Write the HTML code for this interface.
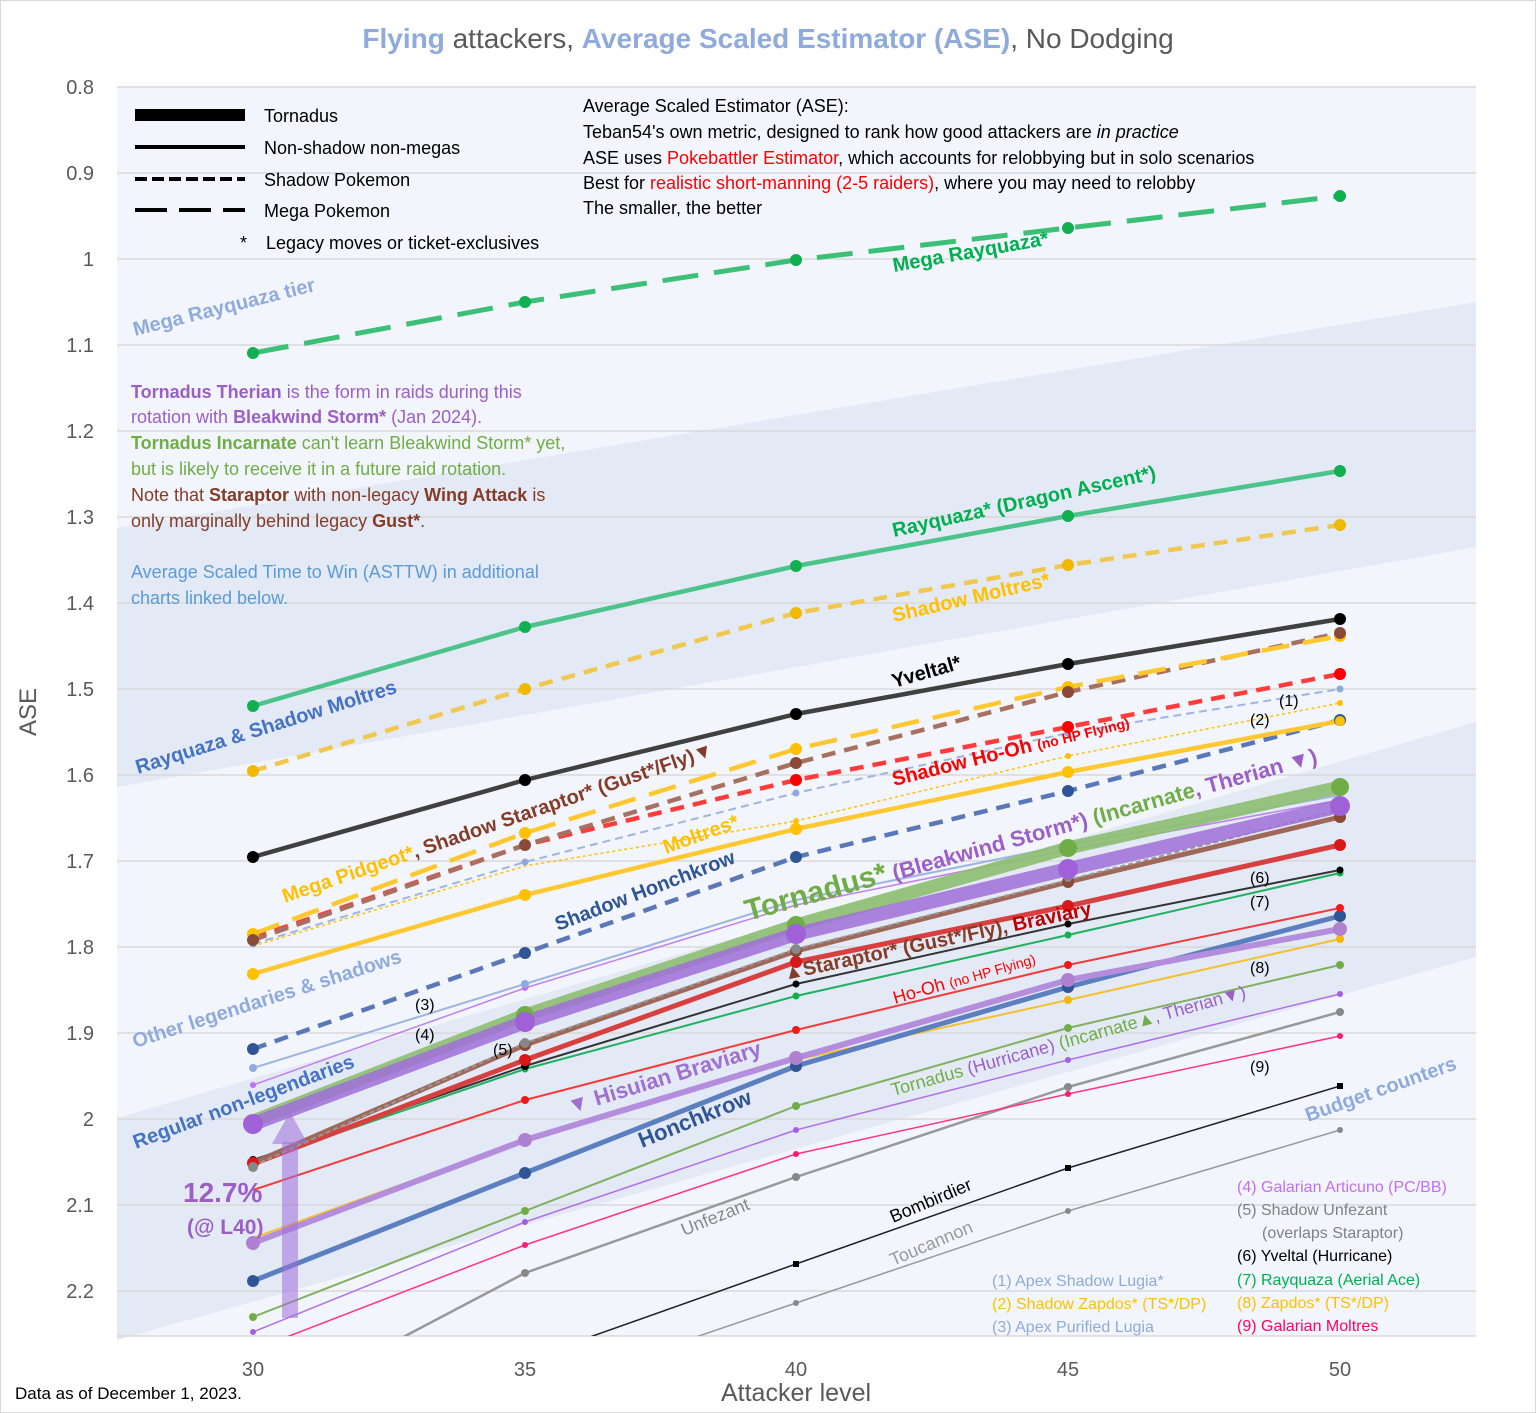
<!DOCTYPE html>
<html><head><meta charset="utf-8"><style>
html,body{margin:0;padding:0;background:#fff;overflow:hidden;width:1536px;height:1413px;}
svg{display:block;font-family:"Liberation Sans",sans-serif;}
</style></head><body>
<svg width="1536" height="1413" viewBox="0 0 1536 1413" xmlns="http://www.w3.org/2000/svg">
<defs><clipPath id="pc"><rect x="117" y="87" width="1359" height="1249"/></clipPath></defs>
<rect x="0.5" y="0.5" width="1535" height="1412" fill="#fff" stroke="#d9d9d9"/>
<rect x="117" y="87" width="1359" height="1249" fill="#f2f5fb"/>
<polygon points="117,528 1476,302 1476,547 117,787" fill="#e3e9f5"/>
<polygon points="117,1118 1476,722 1476,957 117,1340" fill="#e3e9f5"/>
<g stroke="#d9d9d9" stroke-width="1.5">
<line x1="117" x2="1476" y1="87" y2="87"/><line x1="117" x2="1476" y1="173" y2="173"/><line x1="117" x2="1476" y1="259" y2="259"/><line x1="117" x2="1476" y1="345" y2="345"/><line x1="117" x2="1476" y1="431" y2="431"/><line x1="117" x2="1476" y1="517" y2="517"/><line x1="117" x2="1476" y1="603" y2="603"/><line x1="117" x2="1476" y1="689" y2="689"/><line x1="117" x2="1476" y1="775" y2="775"/><line x1="117" x2="1476" y1="861" y2="861"/><line x1="117" x2="1476" y1="947" y2="947"/><line x1="117" x2="1476" y1="1033" y2="1033"/><line x1="117" x2="1476" y1="1119" y2="1119"/><line x1="117" x2="1476" y1="1205" y2="1205"/><line x1="117" x2="1476" y1="1291" y2="1291"/><line x1="117" x2="1476" y1="1336" y2="1336"/>
</g>
<text x="768" y="48" text-anchor="middle" font-size="28" fill="#595959"><tspan fill="#8faadc" font-weight="bold">Flying</tspan> attackers, <tspan fill="#8faadc" font-weight="bold">Average Scaled Estimator (ASE)</tspan>, No Dodging</text>
<g font-size="20" fill="#595959" text-anchor="end">
<text x="94" y="94">0.8</text><text x="94" y="180">0.9</text><text x="94" y="266">1</text><text x="94" y="352">1.1</text><text x="94" y="438">1.2</text><text x="94" y="524">1.3</text><text x="94" y="610">1.4</text><text x="94" y="696">1.5</text><text x="94" y="782">1.6</text><text x="94" y="868">1.7</text><text x="94" y="954">1.8</text><text x="94" y="1040">1.9</text><text x="94" y="1126">2</text><text x="94" y="1212">2.1</text><text x="94" y="1298">2.2</text>
</g>
<g font-size="20" fill="#595959" text-anchor="middle">
<text x="253" y="1376">30</text><text x="525" y="1376">35</text><text x="796" y="1376">40</text><text x="1068" y="1376">45</text><text x="1340" y="1376">50</text>
</g>
<text x="796" y="1401" text-anchor="middle" font-size="25" fill="#595959">Attacker level</text>
<text transform="translate(36,712) rotate(-90)" text-anchor="middle" font-size="24" fill="#595959">ASE</text>
<text x="15" y="1399" font-size="17" fill="#000">Data as of December 1, 2023.</text>

<g clip-path="url(#pc)" fill="none" stroke-linejoin="round">
<polyline points="253,1416 525,1273 796,1177 1068,1087 1340,1012" stroke="#999" stroke-width="2.5"/>
<polyline points="253,1552 525,1360 796,1264 1068,1168 1340,1086" stroke="#222" stroke-width="1.5"/>
<polyline points="253,1579 525,1395 796,1303 1068,1211 1340,1130" stroke="#999" stroke-width="1.5"/>
<polyline points="253,1350 525,1245 796,1154 1068,1094 1340,1036" stroke="#ff3385" stroke-width="1.5"/>
<polyline points="253,1332 525,1222 796,1130 1068,1060 1340,994" stroke="#b070e8" stroke-width="1.5"/>
<polyline points="253,1317 525,1211 796,1106 1068,1028 1340,965" stroke="#80b060" stroke-width="2"/>
<polyline points="253,1238 525,1140 796,1060 1068,1000 1340,939" stroke="#f5c030" stroke-width="2"/>
<polyline points="253,1281 525,1173 796,1066 1068,987 1340,916" stroke="#5b7fbf" stroke-width="5"/>
<polyline points="253,1243 525,1140 796,1058 1068,980 1340,929" stroke="#b48ddc" stroke-width="6"/>
<polyline points="253,1190 525,1100 796,1030 1068,965 1340,908" stroke="#f03c3c" stroke-width="2"/>
<polyline points="253,1162 525,1069 796,996 1068,935 1340,873" stroke="#20b060" stroke-width="2"/>
<polyline points="253,1160 525,1066 796,984 1068,924 1340,870" stroke="#333" stroke-width="2"/>
<polyline points="253,1164 525,1060 796,962 1068,906 1340,845" stroke="#d84040" stroke-width="5"/>
<polyline points="253,1163 525,1045 796,951 1068,882 1340,817" stroke="#a06858" stroke-width="5"/>
<polyline points="253,1166 525,1043 796,949 1068,880 1340,810" stroke="#999" stroke-width="2" stroke-dasharray="5 3"/>
<polyline points="253,1085 525,988 796,905 1068,850 1340,800" stroke="#c080f0" stroke-width="1.5"/>
<polyline points="253,1068 525,984 796,900 1068,845 1340,795" stroke="#9db5e0" stroke-width="2"/>
<polyline points="253,1121 525,1015 796,925 1068,848 1340,787" stroke="#8cbf70" stroke-width="13" stroke-opacity="0.9"/>
<polyline points="253,1124 525,1022 796,934 1068,869 1340,806" stroke="#a070d8" stroke-width="14" stroke-opacity="0.85"/>
<polyline points="253,1049 525,953 796,857 1068,791 1340,720" stroke="#5a78b8" stroke-width="4.5" stroke-dasharray="14 9"/>
<polyline points="253,974 525,895 796,829 1068,772 1340,721" stroke="#ffc830" stroke-width="4.5"/>
<polyline points="253,946 525,866 796,821 1068,756 1340,703" stroke="#ffc000" stroke-width="1.5" stroke-dasharray="3 3"/>
<polyline points="253,944 525,862 796,793 1068,733 1340,689" stroke="#9db5e0" stroke-width="2" stroke-dasharray="8 5"/>
<polyline points="253,938 525,845 796,780 1068,727 1340,674" stroke="#ff3c3c" stroke-width="4.5" stroke-dasharray="14 9"/>
<polyline points="253,940 525,845 796,763 1068,692 1340,633" stroke="#a87060" stroke-width="4.5" stroke-dasharray="14 9"/>
<polyline points="253,934 525,833 796,749 1068,687 1340,636" stroke="#ffc830" stroke-width="4.5" stroke-dasharray="28 14"/>
<polyline points="253,857 525,780 796,714 1068,664 1340,619" stroke="#404040" stroke-width="4.5"/>
<polyline points="253,771 525,689 796,613 1068,565 1340,525" stroke="#f0c850" stroke-width="4.5" stroke-dasharray="14 9"/>
<polyline points="253,706 525,627 796,566 1068,516 1340,471" stroke="#4cc38a" stroke-width="4.5"/>
<polyline points="253,353 525,302 796,260 1068,228 1340,196" stroke="#3cc078" stroke-width="5" stroke-dasharray="36 16"/>
</g>
<g clip-path="url(#pc)">
<g fill="#888"><circle cx="525" cy="1273" r="4"/><circle cx="796" cy="1177" r="4"/><circle cx="1068" cy="1087" r="4"/><circle cx="1340" cy="1012" r="4"/></g>
<g fill="#000"><rect x="793" y="1261" width="6" height="6"/><rect x="1065" y="1165" width="6" height="6"/><rect x="1337" y="1083" width="6" height="6"/></g>
<g fill="#888"><circle cx="796" cy="1303" r="3"/><circle cx="1068" cy="1211" r="3"/><circle cx="1340" cy="1130" r="3"/></g>
<g fill="#ff1a75"><circle cx="525" cy="1245" r="3"/><circle cx="796" cy="1154" r="3"/><circle cx="1068" cy="1094" r="3"/><circle cx="1340" cy="1036" r="3"/></g>
<g fill="#a060e0"><circle cx="253" cy="1332" r="3"/><circle cx="525" cy="1222" r="3"/><circle cx="796" cy="1130" r="3"/><circle cx="1068" cy="1060" r="3"/><circle cx="1340" cy="994" r="3"/></g>
<g fill="#70ad47"><circle cx="253" cy="1317" r="4"/><circle cx="525" cy="1211" r="4"/><circle cx="796" cy="1106" r="4"/><circle cx="1068" cy="1028" r="4"/><circle cx="1340" cy="965" r="4"/></g>
<g fill="#f5b800"><circle cx="796" cy="1060" r="4"/><circle cx="1068" cy="1000" r="4"/><circle cx="1340" cy="939" r="4"/></g>
<g fill="#2f5597"><circle cx="253" cy="1281" r="6"/><circle cx="525" cy="1173" r="6"/><circle cx="796" cy="1066" r="6"/><circle cx="1068" cy="987" r="6"/><circle cx="1340" cy="916" r="6"/></g>
<g fill="#b080d0"><circle cx="253" cy="1243" r="7"/><circle cx="525" cy="1140" r="7"/><circle cx="796" cy="1058" r="7"/><circle cx="1068" cy="980" r="7"/><circle cx="1340" cy="929" r="7"/></g>
<g fill="#f01818"><circle cx="525" cy="1100" r="4"/><circle cx="796" cy="1030" r="4"/><circle cx="1068" cy="965" r="4"/><circle cx="1340" cy="908" r="4"/></g>
<g fill="#10b050"><circle cx="525" cy="1069" r="3.5"/><circle cx="796" cy="996" r="3.5"/><circle cx="1068" cy="935" r="3.5"/><circle cx="1340" cy="873" r="3.5"/></g>
<g fill="#000"><circle cx="253" cy="1160" r="4"/><circle cx="525" cy="1066" r="4"/><circle cx="796" cy="984" r="3.5"/><circle cx="1068" cy="924" r="3.5"/><circle cx="1340" cy="870" r="3.5"/></g>
<g fill="#d81818"><circle cx="253" cy="1163" r="6"/><circle cx="525" cy="1060" r="6"/><circle cx="796" cy="962" r="6"/><circle cx="1068" cy="906" r="6"/><circle cx="1340" cy="845" r="6"/></g>
<g fill="#8b4a38"><circle cx="525" cy="1045" r="6"/><circle cx="796" cy="951" r="6"/><circle cx="1068" cy="882" r="6"/><circle cx="1340" cy="817" r="6"/></g>
<g fill="#888"><circle cx="253" cy="1167" r="5"/><circle cx="525" cy="1043" r="5"/><circle cx="796" cy="949" r="5"/><circle cx="1068" cy="878" r="4"/></g>
<g fill="#c070f0"><circle cx="253" cy="1085" r="3"/><circle cx="525" cy="988" r="3"/></g>
<g fill="#8faadc"><circle cx="253" cy="1068" r="4"/><circle cx="525" cy="984" r="4"/></g>
<g fill="#70ad47"><circle cx="525" cy="1015" r="9"/><circle cx="796" cy="925" r="9"/><circle cx="1068" cy="848" r="9"/><circle cx="1340" cy="787" r="9"/></g>
<g fill="#a060d8"><circle cx="253" cy="1124" r="10"/><circle cx="525" cy="1022" r="10"/><circle cx="796" cy="934" r="10"/><circle cx="1068" cy="869" r="10"/><circle cx="1340" cy="806" r="10"/></g>
<g fill="#2f5597"><circle cx="253" cy="1049" r="6"/><circle cx="525" cy="953" r="6"/><circle cx="796" cy="857" r="6"/><circle cx="1068" cy="791" r="6"/><circle cx="1340" cy="720" r="6"/></g>
<g fill="#ffc000"><circle cx="253" cy="974" r="6"/><circle cx="525" cy="895" r="6"/><circle cx="796" cy="829" r="6"/><circle cx="1068" cy="772" r="6"/><circle cx="1340" cy="721" r="5"/></g>
<g fill="#ffc000"><circle cx="796" cy="821" r="3"/><circle cx="1068" cy="756" r="3"/><circle cx="1340" cy="703" r="3"/></g>
<g fill="#8faadc"><circle cx="253" cy="944" r="3.5"/><circle cx="525" cy="862" r="3.5"/><circle cx="796" cy="793" r="3.5"/><circle cx="1068" cy="733" r="3.5"/><circle cx="1340" cy="689" r="3.5"/></g>
<g fill="#ff0000"><circle cx="796" cy="780" r="6"/><circle cx="1068" cy="727" r="6"/><circle cx="1340" cy="674" r="6"/></g>
<g fill="#ffc000"><circle cx="253" cy="934" r="6"/><circle cx="525" cy="833" r="6"/><circle cx="796" cy="749" r="6"/><circle cx="1068" cy="687" r="6"/><circle cx="1340" cy="636" r="6"/></g>
<g fill="#8b4a38"><circle cx="253" cy="940" r="6"/><circle cx="525" cy="845" r="6"/><circle cx="796" cy="763" r="6"/><circle cx="1068" cy="692" r="6"/><circle cx="1340" cy="633" r="6"/></g>
<g fill="#000"><circle cx="253" cy="857" r="6"/><circle cx="525" cy="780" r="6"/><circle cx="796" cy="714" r="6"/><circle cx="1068" cy="664" r="6"/><circle cx="1340" cy="619" r="6"/></g>
<g fill="#f0b800"><circle cx="253" cy="771" r="6"/><circle cx="525" cy="689" r="6"/><circle cx="796" cy="613" r="6"/><circle cx="1068" cy="565" r="6"/><circle cx="1340" cy="525" r="6"/></g>
<g fill="#10b050"><circle cx="253" cy="706" r="6"/><circle cx="525" cy="627" r="6"/><circle cx="796" cy="566" r="6"/><circle cx="1068" cy="516" r="6"/><circle cx="1340" cy="471" r="6"/></g>
<g fill="#10b050"><circle cx="253" cy="353" r="6"/><circle cx="525" cy="302" r="6"/><circle cx="796" cy="260" r="6"/><circle cx="1068" cy="228" r="6"/><circle cx="1340" cy="196" r="6"/></g>
</g>
<g fill="#a070d8" fill-opacity="0.55">
<rect x="282" y="1142" width="16" height="176"/>
<polygon points="272,1144 290,1112 308,1144"/>
</g>
<text x="183" y="1202" font-size="28" font-weight="bold" fill="#9b5fc7">12.7%</text>
<text x="187" y="1234" font-size="21" font-weight="bold" fill="#9b5fc7">(@ L40)</text>

<rect x="135" y="109" width="110" height="12" fill="#000"/>
<line x1="135" x2="245" y1="147" y2="147" stroke="#000" stroke-width="4"/>
<line x1="135" x2="245" y1="179" y2="179" stroke="#000" stroke-width="4" stroke-dasharray="12 5"/>
<line x1="135" x2="245" y1="210" y2="210" stroke="#000" stroke-width="4" stroke-dasharray="32 12"/>
<g font-size="18" fill="#000">
<text x="264" y="122">Tornadus</text><text x="264" y="154">Non-shadow non-megas</text><text x="264" y="186">Shadow Pokemon</text><text x="264" y="217">Mega Pokemon</text>
<text x="240" y="249">*</text><text x="266" y="249">Legacy moves or ticket-exclusives</text>
<text x="583" y="112">Average Scaled Estimator (ASE):</text>
<text x="583" y="138">Teban54's own metric, designed to rank how good attackers are <tspan font-style="italic">in practice</tspan></text>
<text x="583" y="164">ASE uses <tspan fill="#ff0000">Pokebattler Estimator</tspan>, which accounts for relobbying but in solo scenarios</text>
<text x="583" y="189">Best for <tspan fill="#ff0000">realistic short-manning (2-5 raiders)</tspan>, where you may need to relobby</text>
<text x="583" y="214">The smaller, the better</text>
</g>
<g font-size="18">
<text x="131" y="398" fill="#9b5fc7"><tspan font-weight="bold">Tornadus Therian</tspan> is the form in raids during this</text>
<text x="131" y="423" fill="#9b5fc7">rotation with <tspan font-weight="bold">Bleakwind Storm*</tspan> (Jan 2024).</text>
<text x="131" y="449" fill="#70ad47"><tspan font-weight="bold">Tornadus Incarnate</tspan> can't learn Bleakwind Storm* yet,</text>
<text x="131" y="475" fill="#70ad47">but is likely to receive it in a future raid rotation.</text>
<text x="131" y="501" fill="#843c28">Note that <tspan font-weight="bold">Staraptor</tspan> with non-legacy <tspan font-weight="bold">Wing Attack</tspan> is</text>
<text x="131" y="527" fill="#843c28">only marginally behind legacy <tspan font-weight="bold">Gust*</tspan>.</text>
<text x="131" y="578" fill="#5b9bd5">Average Scaled Time to Win (ASTTW) in additional</text>
<text x="131" y="604" fill="#5b9bd5">charts linked below.</text>
</g>

<g font-weight="bold" font-size="20">
<text transform="translate(135,336) rotate(-14)" fill="#8faadc">Mega Rayquaza tier</text>
<text transform="translate(894,272) rotate(-10)" fill="#00b050">Mega Rayquaza*</text>
<text transform="translate(894,537) rotate(-12.5)" fill="#00b050">Rayquaza* (Dragon Ascent*)</text>
<text transform="translate(894,622) rotate(-13)" fill="#ffc000">Shadow Moltres*</text>
<text transform="translate(138,774) rotate(-17.4)" fill="#4472c4">Rayquaza &amp; Shadow Moltres</text>
<text transform="translate(894,688) rotate(-16)" fill="#000">Yveltal*</text>
<text transform="translate(285,903) rotate(-19)" fill="#ffc000">Mega Pidgeot*<tspan fill="#843c28">, Shadow Staraptor* (Gust*/Fly)▼</tspan></text>
<text transform="translate(894,786) rotate(-14)" fill="#ff0000">Shadow Ho-Oh <tspan font-size="14">(no HP Flying)</tspan></text>
<text transform="translate(666,854) rotate(-20)" fill="#ffc000">Moltres*</text>
<text transform="translate(558,931) rotate(-21)" fill="#2f5597">Shadow Honchkrow</text>
<text transform="translate(748,921) rotate(-15.5)" fill="#70ad47"><tspan font-size="30">Tornadus*</tspan><tspan fill="#9b5fc7" font-size="22"> (Bleakwind Storm*) </tspan><tspan font-size="22">(Incarnate</tspan><tspan fill="#9b5fc7" font-size="22">, Therian ▼)</tspan></text>
<text transform="translate(135,1048) rotate(-17.8)" fill="#8faadc">Other legendaries &amp; shadows</text>
<text transform="translate(136,1149) rotate(-20.5)" fill="#4472c4">Regular non-legendaries</text>
<text transform="translate(785,980) rotate(-12)" fill="#843c28">▲Staraptor* (Gust*/Fly), <tspan fill="#c00000">Braviary</tspan></text>
<text transform="translate(570,1114) rotate(-17)" fill="#a070d0" font-size="22">▼ Hisuian Braviary</text>
<text transform="translate(642,1148) rotate(-22)" fill="#2f5597" font-size="22">Honchkrow</text>
<text transform="translate(1308,1122) rotate(-19.5)" fill="#8faadc">Budget counters</text>
</g>
<g font-size="18">
<text transform="translate(895,1004) rotate(-16)" fill="#ff0000">Ho-Oh <tspan font-size="14">(no HP Flying)</tspan></text>
<text transform="translate(893,1096) rotate(-15.6)" fill="#70ad47">Tornadus <tspan fill="#9b5fc7">(Hurricane)</tspan> (Incarnate▲<tspan fill="#9b5fc7">, Therian▼)</tspan></text>
<text transform="translate(684,1236) rotate(-22)" fill="#888">Unfezant</text>
<text transform="translate(893,1223) rotate(-23)" fill="#000">Bombirdier</text>
<text transform="translate(893,1266) rotate(-23)" fill="#999">Toucannon</text>
</g>
<g font-size="16" fill="#000">
<text x="1279" y="706">(1)</text><text x="1250" y="725">(2)</text><text x="415" y="1010">(3)</text><text x="415" y="1040">(4)</text><text x="493" y="1055">(5)</text><text x="1250" y="883">(6)</text><text x="1250" y="907">(7)</text><text x="1250" y="973">(8)</text><text x="1250" y="1072">(9)</text>
</g>
<g font-size="16">
<text x="992" y="1286" fill="#8faadc">(1) Apex Shadow Lugia*</text>
<text x="992" y="1309" fill="#ffc000">(2) Shadow Zapdos* (TS*/DP)</text>
<text x="992" y="1332" fill="#8faadc">(3) Apex Purified Lugia</text>
<text x="1237" y="1192" fill="#c070f0">(4) Galarian Articuno (PC/BB)</text>
<text x="1237" y="1215" fill="#808080">(5) Shadow Unfezant</text>
<text x="1262" y="1238" fill="#808080">(overlaps Staraptor)</text>
<text x="1237" y="1261" fill="#000">(6) Yveltal (Hurricane)</text>
<text x="1237" y="1285" fill="#00b050">(7) Rayquaza (Aerial Ace)</text>
<text x="1237" y="1308" fill="#ffc000">(8) Zapdos* (TS*/DP)</text>
<text x="1237" y="1331" fill="#ff0066">(9) Galarian Moltres</text>
</g>
</svg>
</body></html>
